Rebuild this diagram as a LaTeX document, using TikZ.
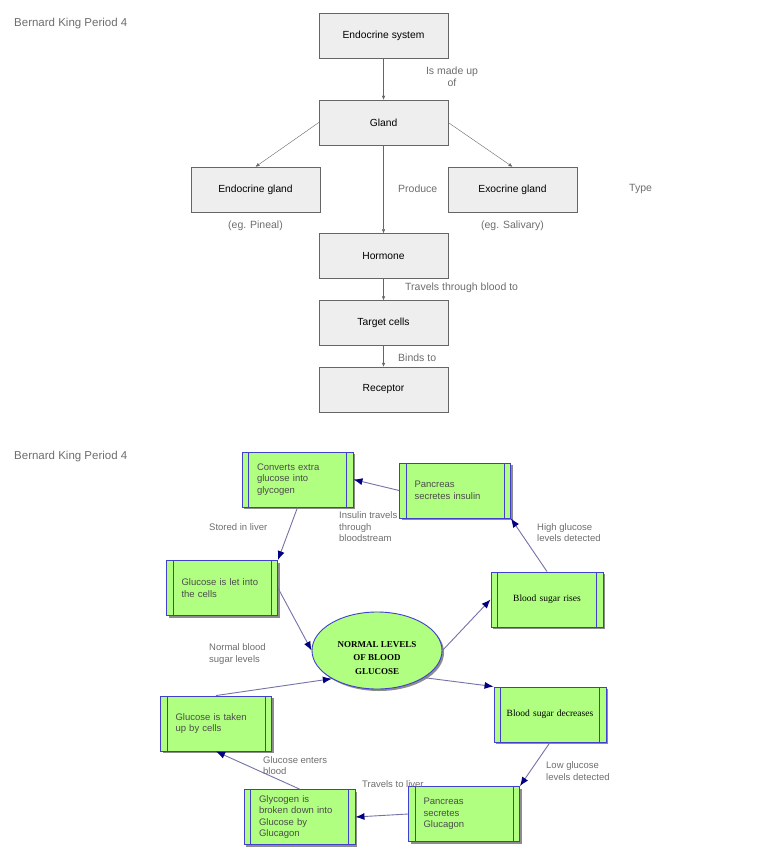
\documentclass[tikz,border=0pt]{standalone}
\usepackage{fontspec}
\setmainfont{Liberation Sans}
\newfontfamily\timesfont{Liberation Serif}
\usetikzlibrary{arrows.meta, shapes.geometric, shadows}

\definecolor{boxgray}{HTML}{EEEEEE}
\definecolor{edgegray}{HTML}{666666}
\definecolor{labelgray}{HTML}{6E6E6E}
\definecolor{leafgreen}{HTML}{B0FF80}
\definecolor{rimblue}{HTML}{4040CC}
\definecolor{linkblue}{HTML}{7373A8}
\definecolor{tipnavy}{HTML}{000080}

\tikzset{
  graybox/.style={draw=edgegray, fill=boxgray, minimum width=129pt, minimum height=45pt,
    inner sep=0pt, font=\fontsize{10.3}{12}\selectfont},
  grayarrow/.style={draw=edgegray, -{Latex[length=4pt,width=3.5pt]}},
  toplabel/.style={text=labelgray, inner sep=0pt, font=\fontsize{10.5}{12.5}\selectfont},
  botlabel/.style={text=labelgray, inner sep=0pt, anchor=west, align=left,
    font=\fontsize{9.5}{11.5}\selectfont},
  cyclebox/.style={draw=rimblue, line width=0.9pt, fill=leafgreen, minimum height=55pt,
    text width=81pt, inner xsep=15pt, align=left, text=black!70,
    font=\fontsize{9.5}{11.5}\selectfont,
    drop shadow={shadow xshift=2pt, shadow yshift=-2pt, fill=black, opacity=0.45},
    path picture={
      \draw[rimblue, line width=0.9pt]
        ([xshift=6.5pt]path picture bounding box.north west) -- ([xshift=6.5pt]path picture bounding box.south west)
        ([xshift=-6.5pt]path picture bounding box.north east) -- ([xshift=-6.5pt]path picture bounding box.south east);
    }},
  serifcycle/.style={cyclebox, text width=92pt, inner xsep=10pt, align=center, text=black,
    font=\timesfont\fontsize{9.5}{11.5}\selectfont},
  cyclearrow/.style={draw=linkblue, line width=0.9pt, -{Latex[length=9pt,width=7pt,color=tipnavy]}},
}

\begin{document}
\begin{tikzpicture}[x=1pt, y=-1pt]
  \fill[white] (0,0) rectangle (768,866);
  \useasboundingbox (0,0) rectangle (768,866);

  % upper map
  \begin{scope}
    \node[toplabel, anchor=west, font=\fontsize{11.5}{13}\selectfont] (title1) at (14,24) {Bernard King Period 4};

    \node[graybox] (system) at (383.5,35.5) {Endocrine system};
    \node[graybox] (gland) at (383.5,122.5) {Gland};
    \node[graybox] (endogland) at (255.5,189.5) {Endocrine gland};
    \node[graybox] (exogland) at (512.5,189.5) {Exocrine gland};
    \node[graybox] (hormone) at (383.5,256) {Hormone};
    \node[graybox] (target) at (383.5,323) {Target cells};
    \node[graybox] (receptor) at (383.5,389.5) {Receptor};
  \end{scope}

  \begin{scope}
    \draw[grayarrow] (system) -- (gland);
    \draw[grayarrow] (gland.west) -- (endogland.north);
    \draw[grayarrow] (gland.east) -- (exogland.north);
    \draw[grayarrow] (gland) -- (hormone);
    \draw[grayarrow] (hormone) -- (target);
    \draw[grayarrow] (target) -- (receptor);
  \end{scope}

  \begin{scope}
    \node[toplabel, align=center] (madeup) at (452,77) {Is made up\\of};
    \node[toplabel, anchor=west] (produce) at (398,189) {Produce};
    \node[toplabel, anchor=west] (type) at (629,189) {Type};
    \node[toplabel] (pineal) at (255.5,226) {(eg. Pineal)};
    \node[toplabel] (salivary) at (512.5,226) {(eg. Salivary)};
    \node[toplabel, anchor=west] (travblood) at (405,288) {Travels through blood to};
    \node[toplabel, anchor=west] (binds) at (398,358) {Binds to};
  \end{scope}

  % lower cycle
  \begin{scope}
    \node[toplabel, anchor=west, font=\fontsize{11.5}{13}\selectfont] (title2) at (14,457) {Bernard King Period 4};

    \node[cyclebox] (converts) at (297.5,479.5) {Converts extra\\glucose into\\glycogen};
    \node[cyclebox] (insulin) at (455,490.5) {Pancreas\\secretes insulin};
    \node[cyclebox] (letin) at (222,588) {Glucose is let into\\the cells};
    \node[serifcycle] (rises) at (547,599.5) {Blood sugar rises};
    \node[ellipse, draw=rimblue, line width=0.9pt, fill=leafgreen, minimum width=130pt,
      minimum height=77pt, inner sep=0pt, align=center,
      font=\timesfont\bfseries\fontsize{9}{13.5}\selectfont,
      drop shadow={shadow xshift=2pt, shadow yshift=-2pt, fill=black, opacity=0.45}]
      (normal) at (377,650.5) {\rule{0pt}{21pt}NORMAL LEVELS\\OF BLOOD\\GLUCOSE};
    \node[serifcycle] (decreases) at (550,714.5) {Blood sugar decreases};
    \node[cyclebox] (takenup) at (216,723.5) {Glucose is taken\\up by cells};
    \node[cyclebox] (glycogen) at (299.5,817) {Glycogen is\\broken down into\\Glucose by\\Glucagon};
    \node[cyclebox] (glucagon) at (464,814) {Pancreas\\secretes\\Glucagon};
  \end{scope}

  \begin{scope}
    \draw[cyclearrow] (insulin.west) -- (converts.east);
    \draw[cyclearrow] (converts.south) -- (letin.north east);
    \draw[cyclearrow] (letin.east) -- (normal.west);
    \draw[cyclearrow] (normal.east) -- (rises.west);
    \draw[cyclearrow] (rises.north) -- (insulin.south east);
    \draw[cyclearrow] (normal.-30) -- (decreases.north west);
    \draw[cyclearrow] (decreases.south) -- (glucagon.north east);
    \draw[cyclearrow] (glucagon.west) -- (glycogen.east);
    \draw[cyclearrow] (glycogen.north) -- (takenup.south);
    \draw[cyclearrow] (takenup.north) -- (normal.212);
  \end{scope}

  \begin{scope}
    \node[botlabel] (stored) at (209,527) {Stored in liver};
    \node[botlabel] (insulintravels) at (339,527) {Insulin travels\\through\\bloodstream};
    \node[botlabel] (highglucose) at (537,532.5) {High glucose\\levels detected};
    \node[botlabel] (normalblood) at (209,654) {Normal blood\\sugar levels};
    \node[botlabel] (enters) at (263,765.5) {Glucose enters\\blood};
    \node[botlabel] (travliver) at (362,784) {Travels to liver};
    \node[botlabel] (lowglucose) at (546,771) {Low glucose\\levels detected};
  \end{scope}
\end{tikzpicture}
\end{document}
